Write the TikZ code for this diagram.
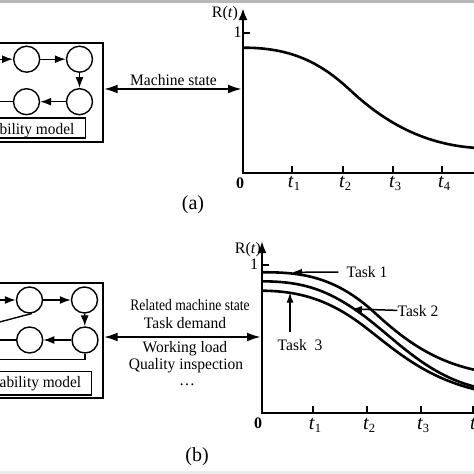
\documentclass[tikz,border=0pt]{standalone}
\usepackage{fontspec}
\setmainfont{Liberation Serif}
\usetikzlibrary{arrows.meta}
\newcommand\tlab[1]{{\fontsize{20}{22}\selectfont\itshape t}\kern0.2pt\raisebox{-3pt}{\fontsize{12.5}{14}\selectfont #1}}
\begin{document}
\begin{tikzpicture}[x=1pt,y=-1pt,
  every node/.style={font=\fontsize{16}{18}\selectfont, inner sep=0pt},
  caption/.style={font=\fontsize{20}{22}\selectfont},
  stnode/.style={draw, circle, line width=1.4pt, minimum size=26pt, inner sep=0pt},
  modelbox/.style={draw, line width=1.3pt, inner sep=0pt},
  flow/.style={line width=1.4pt, -{Latex[length=11pt,width=8pt]}},
  plain/.style={line width=1.4pt},
  dbl/.style={line width=2.3pt, {Latex[length=14pt,width=9pt]}-{Latex[length=14pt,width=9pt]}},
  axisline/.style={line width=2.6pt, {Latex[length=12pt,width=9pt]}-},
  curveline/.style={line width=2.6pt},
  tickline/.style={line width=2pt},
  note/.style={line width=1.5pt, -{Latex[length=10pt,width=7pt]}}]
\useasboundingbox (0,0) rectangle (474,474);
\clip (0,0) rectangle (474,474);
\fill[white] (0,0) rectangle (474,474);
\fill[black!28] (0,0) rectangle (474,2.7);
\fill[black!8] (0,471) rectangle (474,474);

% ---------- panel (a) ----------
\node[modelbox, minimum width=118pt, minimum height=99pt] (boxA) at (44,92.5) {};
\node[modelbox, minimum width=100.5pt, minimum height=20pt] (labA) at (35.25,128) {};
\node[anchor=west] (modelA) at (-0.5,130.5) {\scalebox{0.96}[1]{bility model}};
\node[stnode] (a1) at (26.7,59.2) {};
\node[stnode] (a2) at (79.5,59.2) {};
\node[stnode] (a3) at (79.5,101.7) {};
\node[stnode] (a4) at (26.5,101.7) {};
\coordinate (ain) at (-5,59.2);
\coordinate (aout) at (-5,101.7);
\draw[flow] (ain) -- (a1);
\draw[flow] (a1) -- (a2);
\draw[flow] (a2) -- (a3);
\draw[flow] (a3) -- (a4);
\draw[plain] (a4) -- (aout);

\coordinate (oA) at (243,173);
\coordinate (yA) at (243,8);
\coordinate (xA) at (480,173);
\coordinate (mA) at (242,89);
\draw[dbl] (boxA.east |- mA) -- (mA);
\node (msA) at (173.5,80) {\scalebox{0.97}[1]{Machine state}};

\draw[axisline] (yA) -- (oA) -- (xA);
\foreach \x in {292,343,393,442} \draw[tickline] (\x,173) -- (\x,166);
\draw[tickline] (243,33) -- (250,33);
\node (tA1) at (294,183) {\tlab{1}};
\node (tA2) at (345,183) {\tlab{2}};
\node (tA3) at (395,183) {\tlab{3}};
\node (tA4) at (444,183) {\tlab{4}};
\node (zA) at (240,183) {\textbf{0}};
\node (oneA) at (237.5,32.5) {1};
\node (RA) at (225,14) {R(\textit{t})};
\draw[curveline] (243,47.7) .. controls (290,47.5) and (320,62) .. (350,90)
  .. controls (380,118) and (420,145) .. (478,148);
\node[caption] (capA) at (193,205) {(a)};

% ---------- panel (b) ----------
\node[modelbox, minimum width=118pt, minimum height=115pt] (boxB) at (44,340.5) {};
\node[modelbox, minimum width=106.7pt, minimum height=23.3pt] (labB) at (38.35,383.35) {};
\node[anchor=west] (modelB) at (-0.5,383.5) {\scalebox{0.96}[1]{ability model}};
\node[stnode] (b1) at (29.5,300) {};
\node[stnode] (b2) at (84.5,300) {};
\node[stnode] (b3) at (85,340) {};
\node[stnode] (b4) at (29.7,340) {};
\coordinate (bin) at (-5,300);
\coordinate (bout) at (-5,340);
\coordinate (bfb1) at (-5,323.2);
\coordinate (bfb2) at (-5,359.3);
\draw[flow] (bin) -- (b1);
\draw[flow] (b1) -- (b2);
\draw[flow] (b2) -- (b3);
\draw[flow] (b3) -- (b4);
\draw[plain] (b4) -- (bout);
\draw[plain] (b1.-80) -- (bfb1);
\draw[plain] (b3.south) |- (bfb2);

\coordinate (oB) at (262,413);
\coordinate (yB) at (262,241);
\coordinate (xB) at (480,413);
\coordinate (mB) at (261,337);
\draw[dbl] (boxB.east |- mB) -- (mB);
\node (rel) at (190,305) {\scalebox{0.85}[1]{Related machine state}};
\node (dem) at (185,323) {\scalebox{0.97}[1]{Task demand}};
\node (load) at (185,348.5) {\scalebox{0.97}[1]{Working load}};
\node (qual) at (186,366) {\scalebox{0.97}[1]{Quality inspection}};
\node (dots) at (187,385) {…};

\draw[axisline] (yB) -- (oB) -- (xB);
\foreach \x in {313,367,421,473} \draw[tickline] (\x,413) -- (\x,406);
\draw[tickline] (262,265) -- (269,265);
\node (tB1) at (315,425) {\tlab{1}};
\node (tB2) at (369,425) {\tlab{2}};
\node (tB3) at (423,425) {\tlab{3}};
\node (tB4) at (476,425) {\tlab{4}};
\node (zB) at (258,423) {\textbf{0}};
\node (oneB) at (254,264.5) {1};
\node (RB) at (248,250) {R(\textit{t})};

\draw[curveline] (262,272.3) .. controls (300,272) and (335,276) .. (375,313)
  .. controls (405,340.75) and (435,362) .. (478,370.5);
\draw[curveline] (262,281.3) .. controls (300,281.5) and (325,288) .. (360,313)
  .. controls (395,338) and (425,375) .. (478,387.5);
\draw[curveline] (262,290.7) .. controls (300,291) and (330,300) .. (365,327)
  .. controls (395,350) and (425,378) .. (478,390);

\node (task1) at (367,272) {\scalebox{0.97}[1]{Task 1}};
\node (task2) at (418,311) {\scalebox{0.97}[1]{Task 2}};
\node (task3) at (300,345) {\scalebox{0.97}[1]{Task\ \ 3}};
\coordinate (tip1) at (292,272.3);
\coordinate (tip2) at (352,309);
\coordinate (tip3) at (290,292.5);
\draw[note, shorten <=8pt] (task1) -- (tip1);
\draw[note] (task2) -- (tip2);
\draw[note, shorten <=7.5pt] (task3.north -| tip3) -- (tip3);
\node[caption] (capB) at (197,457) {(b)};
\end{tikzpicture}
\end{document}
